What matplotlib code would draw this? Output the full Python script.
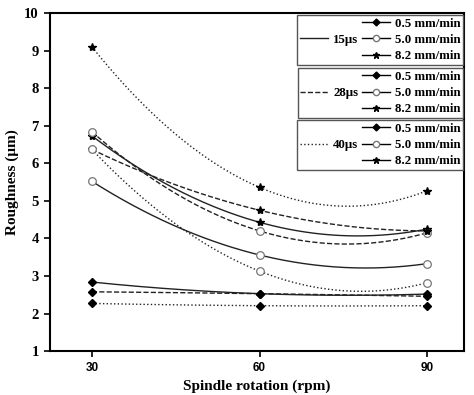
import numpy as np
import matplotlib
matplotlib.use("Agg")
import matplotlib.pyplot as plt
from matplotlib.lines import Line2D

plt.rcParams['font.family'] = ['Liberation Serif', 'DejaVu Serif']
plt.rcParams['font.weight'] = 'bold'

rpm = [30, 60, 90]
feeds = ['0.5 mm/min', '5.0 mm/min', '8.2 mm/min']
pulses = ['15μs', '28μs', '40μs']

# roughness (um) for each pulse, rows = feed 0.5, 5.0, 8.2
r_15 = [[2.84, 2.53, 2.52],
        [5.52, 3.56, 3.33],
        [6.73, 4.43, 4.25]]
r_28 = [[2.58, 2.53, 2.46],
        [6.84, 4.20, 4.15],
        [6.37, 4.75, 4.20]]
r_40 = [[2.27, 2.21, 2.21],
        [6.37, 3.13, 2.82],
        [9.10, 5.36, 5.27]]

styles = ['-', '--', ':']
markers = ['D', 'o', '*']

fig = plt.figure(figsize=(4.74, 3.95), dpi=100)
ax = fig.add_axes([0.1055, 0.111, 0.8735, 0.856])

xs = np.linspace(30, 90, 200)
for data, ls in zip([r_15, r_28, r_40], styles):
    for vals, mk in zip(data, markers):
        c = np.polyfit(rpm, vals, 2)
        ax.plot(xs, np.polyval(c, xs), color='#222222', lw=1.0, ls=ls)
        if mk == 'o':
            ax.plot(rpm, vals, ls='none', marker='o', ms=5.5, mfc='white',
                    mec='#777777', mew=0.9)
        elif mk == 'D':
            ax.plot(rpm, vals, ls='none', marker='D', ms=4.5, color='black')
        else:
            ax.plot(rpm, vals, ls='none', marker='*', ms=6, color='black')

ax.set_xlim(22.5, 96.6)
ax.set_ylim(1, 10)
ax.set_xticks(rpm)
ax.set_yticks(range(1, 11))
ax.tick_params(direction='out', length=4.5, width=1.2, labelsize=10.5,
               top=False, right=False)
for t in ax.get_xticklabels():
    t.set_fontfamily('Liberation Sans')
    t.set_fontsize(8.5)
for s in ax.spines.values():
    s.set_linewidth(1.5)
ax.set_xlabel('Spindle rotation (rpm)', fontsize=11, fontweight='bold')
ax.set_ylabel('Roughness (μm)', fontsize=11, fontweight='bold')

blank = Line2D([], [], ls='none')
tops = [0.994, 0.837, 0.683]
legs = []
for p, ls, top in zip(pulses, styles, tops):
    hs = [blank, Line2D([], [], color='#222222', lw=1.0, ls=ls), blank,
          Line2D([], [], color='black', lw=1.0, marker='D', ms=3.5),
          Line2D([], [], color='black', lw=1.0, marker='o', ms=4.5, mfc='white',
                 mec='#777777'),
          Line2D([], [], color='black', lw=1.0, marker='*', ms=5)]
    lb = ['', p, '', feeds[0], feeds[1], feeds[2]]
    lg = ax.legend(hs, lb, ncol=2, loc='upper right', bbox_to_anchor=(0.998, top),
                   fontsize=9.3, numpoints=1, handlelength=2.2, handletextpad=0.35,
                   columnspacing=0.3, labelspacing=0.33, borderpad=0.2,
                   borderaxespad=0, fancybox=False, framealpha=1,
                   edgecolor='#555555')
    lg.get_frame().set_linewidth(1.0)
    legs.append(lg)
for lg in legs[:-1]:
    ax.add_artist(lg)

fig.savefig('out.png', dpi=100)
